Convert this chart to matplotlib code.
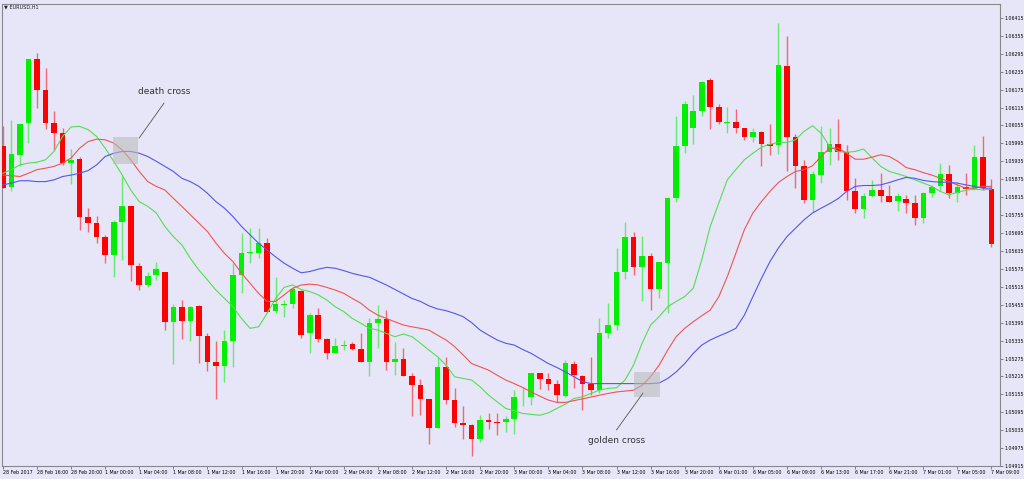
import numpy as np
import matplotlib
matplotlib.use("Agg")
import matplotlib.pyplot as plt

# EURUSD H1 candles
opens = [1.05985, 1.05848, 1.05955, 1.06062, 1.06278, 1.06173, 1.06063, 1.06029, 1.05930, 1.05942,
         1.05750, 1.05728, 1.05681, 1.05620, 1.05732, 1.05787, 1.05586, 1.05520, 1.05553, 1.05566,
         1.05398, 1.05447, 1.05400, 1.05451, 1.05350, 1.05262, 1.05250, 1.05332, 1.05553, 1.05627,
         1.05629, 1.05662, 1.05435, 1.05455, 1.05457, 1.05502, 1.05359, 1.05420, 1.05340, 1.05295,
         1.05318, 1.05323, 1.05307, 1.05263, 1.05395, 1.05408, 1.05263, 1.05274, 1.05217, 1.05185,
         1.05138, 1.05044, 1.05247, 1.05136, 1.05060, 1.05052, 1.05007, 1.05069, 1.05063, 1.05061,
         1.05074, 1.05145, 1.05145, 1.05225, 1.05206, 1.05191, 1.05151, 1.05258, 1.05216, 1.05191,
         1.05171, 1.05359, 1.05387, 1.05566, 1.05681, 1.05582, 1.05619, 1.05506, 1.05596, 1.05811,
         1.05985, 1.06046, 1.06102, 1.06207, 1.06118, 1.06063, 1.06065, 1.06046, 1.06015, 1.06032,
         1.05993, 1.05988, 1.06253, 1.06015, 1.05918, 1.05806, 1.05889, 1.05966, 1.05993, 1.05966,
         1.05836, 1.05775, 1.05819, 1.05838, 1.05820, 1.05802, 1.05810, 1.05797, 1.05744, 1.05828,
         1.05851, 1.05891, 1.05828, 1.05849, 1.05841, 1.05951, 1.05843]
highs = [1.06054, 1.06074, 1.06063, 1.06278, 1.06297, 1.06247, 1.06102, 1.06046, 1.05977, 1.05949,
         1.05778, 1.05752, 1.05689, 1.05739, 1.05887, 1.05787, 1.05593, 1.05566, 1.05599, 1.05566,
         1.05457, 1.05471, 1.05451, 1.05454, 1.05359, 1.05334, 1.05370, 1.05594, 1.05694, 1.05711,
         1.05711, 1.05678, 1.05547, 1.05471, 1.05515, 1.05504, 1.05426, 1.05443, 1.05342, 1.05342,
         1.05337, 1.05331, 1.05359, 1.05409, 1.05454, 1.05437, 1.05331, 1.05309, 1.05225, 1.05205,
         1.05138, 1.05281, 1.05281, 1.05175, 1.05115, 1.05057, 1.05085, 1.05091, 1.05091, 1.05083,
         1.05169, 1.05180, 1.05228, 1.05228, 1.05225, 1.05203, 1.05270, 1.05267, 1.05219, 1.05281,
         1.05409, 1.05462, 1.05645, 1.05733, 1.05700, 1.05685, 1.05627, 1.05599, 1.05817, 1.06085,
         1.06136, 1.06158, 1.06203, 1.06214, 1.06127, 1.06118, 1.06110, 1.06048, 1.06046, 1.06035,
         1.06061, 1.06398, 1.06356, 1.06026, 1.05940, 1.05901, 1.06052, 1.06046, 1.06077, 1.05989,
         1.05878, 1.05828, 1.05873, 1.05897, 1.05856, 1.05828, 1.05823, 1.05823, 1.05831, 1.05856,
         1.05929, 1.05923, 1.05867, 1.05897, 1.05990, 1.06020, 1.05876]
lows = [1.05845, 1.05834, 1.05918, 1.05996, 1.06113, 1.06044, 1.05973, 1.05923, 1.05859, 1.05705,
        1.05697, 1.05661, 1.05594, 1.05547, 1.05605, 1.05534, 1.05504, 1.05515, 1.05538, 1.05370,
        1.05255, 1.05339, 1.05333, 1.05261, 1.05233, 1.05138, 1.05195, 1.05245, 1.05493, 1.05594,
        1.05610, 1.05432, 1.05426, 1.05415, 1.05443, 1.05342, 1.05292, 1.05329, 1.05275, 1.05295,
        1.05303, 1.05303, 1.05262, 1.05217, 1.05309, 1.05236, 1.05219, 1.05217, 1.05083, 1.05086,
        1.04990, 1.05044, 1.05124, 1.05047, 1.05005, 1.04948, 1.04996, 1.05040, 1.05018, 1.05029,
        1.05021, 1.05115, 1.05118, 1.05173, 1.05169, 1.05130, 1.05147, 1.05175, 1.05104, 1.05152,
        1.05158, 1.05345, 1.05370, 1.05541, 1.05555, 1.05466, 1.05437, 1.05476, 1.05428, 1.05800,
        1.05962, 1.05993, 1.06085, 1.06044, 1.06060, 1.06029, 1.06029, 1.06007, 1.06001, 1.05918,
        1.05957, 1.05959, 1.05901, 1.05845, 1.05795, 1.05765, 1.05862, 1.05921, 1.05940, 1.05806,
        1.05762, 1.05744, 1.05817, 1.05800, 1.05798, 1.05767, 1.05762, 1.05723, 1.05728, 1.05817,
        1.05834, 1.05811, 1.05800, 1.05823, 1.05839, 1.05839, 1.05648]
closes = [1.05847, 1.05960, 1.06060, 1.06278, 1.06173, 1.06063, 1.06029, 1.05930, 1.05940, 1.05750,
          1.05729, 1.05680, 1.05620, 1.05732, 1.05787, 1.05587, 1.05520, 1.05551, 1.05574, 1.05398,
          1.05447, 1.05400, 1.05447, 1.05350, 1.05262, 1.05250, 1.05334, 1.05553, 1.05627, 1.05630,
          1.05662, 1.05432, 1.05456, 1.05457, 1.05506, 1.05353, 1.05420, 1.05341, 1.05295, 1.05318,
          1.05321, 1.05307, 1.05262, 1.05394, 1.05408, 1.05263, 1.05274, 1.05217, 1.05185, 1.05138,
          1.05044, 1.05247, 1.05136, 1.05060, 1.05052, 1.05007, 1.05069, 1.05062, 1.05060, 1.05074,
          1.05145, 1.05147, 1.05225, 1.05206, 1.05191, 1.05152, 1.05261, 1.05219, 1.05191, 1.05171,
          1.05359, 1.05387, 1.05563, 1.05681, 1.05582, 1.05618, 1.05506, 1.05597, 1.05811, 1.05985,
          1.06127, 1.06105, 1.06201, 1.06118, 1.06065, 1.06066, 1.06046, 1.06015, 1.06032, 1.05992,
          1.05987, 1.06257, 1.06015, 1.05918, 1.05806, 1.05893, 1.05966, 1.05993, 1.05966, 1.05836,
          1.05775, 1.05819, 1.05838, 1.05820, 1.05799, 1.05819, 1.05795, 1.05744, 1.05828, 1.05849,
          1.05893, 1.05828, 1.05849, 1.05841, 1.05951, 1.05845, 1.05658]

# moving averages as drawn on the chart (fast / medium / slow)
ma_fast = [1.05895, 1.05907, 1.05923, 1.05929, 1.05932, 1.05940, 1.05968, 1.06018, 1.06050, 1.06052,
           1.06041, 1.06018, 1.05979, 1.05935, 1.05889, 1.05839, 1.05800, 1.05784, 1.05762, 1.05717,
           1.05683, 1.05655, 1.05610, 1.05571, 1.05538, 1.05504, 1.05476, 1.05448, 1.05409, 1.05376,
           1.05381, 1.05426, 1.05476, 1.05513, 1.05521, 1.05506, 1.05499, 1.05488, 1.05471, 1.05448,
           1.05432, 1.05409, 1.05393, 1.05376, 1.05370, 1.05359, 1.05348, 1.05357, 1.05348, 1.05326,
           1.05303, 1.05281, 1.05253, 1.05214, 1.05208, 1.05203, 1.05180, 1.05152, 1.05130, 1.05108,
           1.05100, 1.05091, 1.05088, 1.05085, 1.05093, 1.05108, 1.05122, 1.05141, 1.05147, 1.05158,
           1.05169, 1.05175, 1.05177, 1.05203, 1.05253, 1.05326, 1.05387, 1.05415, 1.05448, 1.05466,
           1.05482, 1.05510, 1.05605, 1.05717, 1.05795, 1.05873, 1.05907, 1.05940, 1.05962, 1.05982,
           1.05992, 1.05998, 1.05998, 1.06007, 1.06035, 1.06054, 1.06029, 1.05985, 1.05968, 1.05965,
           1.05968, 1.05976, 1.05946, 1.05918, 1.05901, 1.05893, 1.05884, 1.05873, 1.05862, 1.05851,
           1.05834, 1.05823, 1.05831, 1.05838, 1.05842, 1.05839, 1.05842]
ma_mid = [1.05889, 1.05887, 1.05884, 1.05895, 1.05907, 1.05912, 1.05918, 1.05929, 1.05946, 1.05979,
          1.06001, 1.06009, 1.06007, 1.05996, 1.05973, 1.05940, 1.05901, 1.05867, 1.05851, 1.05839,
          1.05811, 1.05784, 1.05756, 1.05728, 1.05700, 1.05661, 1.05627, 1.05599, 1.05560, 1.05527,
          1.05493, 1.05466, 1.05466, 1.05488, 1.05510, 1.05521, 1.05524, 1.05521, 1.05513, 1.05504,
          1.05493, 1.05476, 1.05460, 1.05437, 1.05420, 1.05409, 1.05398, 1.05387, 1.05381, 1.05376,
          1.05370, 1.05353, 1.05337, 1.05315, 1.05287, 1.05258, 1.05247, 1.05236, 1.05219, 1.05203,
          1.05191, 1.05178, 1.05163, 1.05149, 1.05136, 1.05128, 1.05128, 1.05134, 1.05140, 1.05146,
          1.05152, 1.05158, 1.05163, 1.05166, 1.05169, 1.05185, 1.05214, 1.05253, 1.05303, 1.05348,
          1.05376, 1.05398, 1.05418, 1.05437, 1.05482, 1.05549, 1.05627, 1.05706, 1.05762, 1.05800,
          1.05834, 1.05864, 1.05884, 1.05901, 1.05907, 1.05920, 1.05951, 1.05979, 1.05979, 1.05962,
          1.05942, 1.05942, 1.05949, 1.05957, 1.05951, 1.05935, 1.05914, 1.05907, 1.05897, 1.05889,
          1.05878, 1.05867, 1.05856, 1.05845, 1.05845, 1.05851, 1.05851]
ma_slow = [1.05856, 1.05862, 1.05870, 1.05870, 1.05867, 1.05867, 1.05873, 1.05884, 1.05889, 1.05895,
           1.05904, 1.05923, 1.05951, 1.05962, 1.05968, 1.05968, 1.05962, 1.05951, 1.05935, 1.05918,
           1.05901, 1.05878, 1.05867, 1.05851, 1.05828, 1.05800, 1.05778, 1.05750, 1.05717, 1.05689,
           1.05661, 1.05638, 1.05615, 1.05594, 1.05577, 1.05562, 1.05566, 1.05574, 1.05580, 1.05577,
           1.05569, 1.05560, 1.05553, 1.05547, 1.05534, 1.05521, 1.05506, 1.05491, 1.05476, 1.05466,
           1.05451, 1.05441, 1.05435, 1.05426, 1.05415, 1.05395, 1.05370, 1.05353, 1.05337, 1.05326,
           1.05320, 1.05305, 1.05292, 1.05275, 1.05258, 1.05245, 1.05230, 1.05214, 1.05198, 1.05191,
           1.05191, 1.05191, 1.05191, 1.05191, 1.05191, 1.05191, 1.05191, 1.05193, 1.05208, 1.05230,
           1.05258, 1.05292, 1.05320, 1.05337, 1.05350, 1.05362, 1.05376, 1.05420, 1.05482, 1.05543,
           1.05599, 1.05645, 1.05683, 1.05711, 1.05739, 1.05762, 1.05778, 1.05793, 1.05810, 1.05834,
           1.05851, 1.05854, 1.05854, 1.05856, 1.05864, 1.05873, 1.05881, 1.05878, 1.05871, 1.05867,
           1.05865, 1.05865, 1.05862, 1.05856, 1.05851, 1.05845, 1.05845]

time_labels = ["28 Feb 2017", "28 Feb 16:00", "28 Feb 20:00", "1 Mar 00:00", "1 Mar 04:00",
               "1 Mar 08:00", "1 Mar 12:00", "1 Mar 16:00", "1 Mar 20:00", "2 Mar 00:00",
               "2 Mar 04:00", "2 Mar 08:00", "2 Mar 12:00", "2 Mar 16:00", "2 Mar 20:00",
               "3 Mar 00:00", "3 Mar 04:00", "3 Mar 08:00", "3 Mar 12:00", "3 Mar 16:00",
               "3 Mar 20:00", "6 Mar 01:00", "6 Mar 05:00", "6 Mar 09:00", "6 Mar 13:00",
               "6 Mar 17:00", "6 Mar 21:00", "7 Mar 01:00", "7 Mar 05:00", "7 Mar 09:00"]
price_ticks = [1.04915, 1.04975, 1.05035, 1.05095, 1.05155, 1.05215, 1.05275, 1.05335, 1.05395,
               1.05455, 1.05515, 1.05575, 1.05635, 1.05695, 1.05755, 1.05815, 1.05875, 1.05935,
               1.05995, 1.06055, 1.06115, 1.06175, 1.06235, 1.06295, 1.06355, 1.06415]

o = np.array(opens); h = np.array(highs); l = np.array(lows); c = np.array(closes)
x = np.arange(len(o))
up = c >= o
cols = np.where(up, "#00ee00", "#ff0000")

fig = plt.figure(figsize=(10.24, 4.79), dpi=100)
fig.patch.set_facecolor("#e6e6f8")
ax = fig.add_axes([0.002, 0.027, 0.975, 0.965])
ax.set_facecolor("#e6e6f8")

ax.vlines(x, l, h, colors=cols, linewidth=1.0, alpha=0.55, zorder=2)
body = np.maximum(np.abs(c - o), 0.000025)
ax.bar(x, body, bottom=np.minimum(o, c), width=0.66, color=cols, zorder=3)

ax.plot(x, ma_fast, color="#55dd55", lw=0.8, zorder=4)
ax.plot(x, ma_mid, color="#ee5555", lw=0.8, zorder=4)
ax.plot(x, ma_slow, color="#5555ee", lw=0.8, zorder=4)

# cross annotations
ax.add_patch(plt.Rectangle((12.94, 1.05926), 2.92, 0.00091, color="#bbbbbb", alpha=0.6, lw=0, zorder=5))
ax.plot([15.99, 18.91], [1.06013, 1.06130], color="#555555", lw=0.6, zorder=5)
ax.text(18.9, 1.06167, "death cross", fontsize=6.5, color="#333333", ha="center", va="center")
ax.add_patch(plt.Rectangle((74.0, 1.05146), 3.06, 0.00084, color="#bbbbbb", alpha=0.6, lw=0, zorder=5))
ax.plot([72.0, 75.1], [1.05036, 1.05159], color="#555555", lw=0.6, zorder=5)
ax.text(72.0, 1.05000, "golden cross", fontsize=6.5, color="#333333", ha="center", va="center")

ax.set_xlim(-0.1, 117.05)
ax.set_ylim(1.04915, 1.06462)
ax.yaxis.tick_right()
ax.set_yticks(price_ticks)
ax.set_yticklabels([f"{p:.5f}" for p in price_ticks], fontsize=3.4)
ax.set_xticks(x[::4])
ax.set_xticklabels(time_labels, fontsize=3.4, ha="left")
ax.tick_params(axis="both", length=2, width=0.5, color="#555555", pad=1)
for s in ax.spines.values():
    s.set_color("#888888")
    s.set_linewidth(0.8)

fig.text(0.004, 0.985, "\u25bc EURUSD,H1", fontsize=3.6, va="center", color="#222222")
fig.savefig("out.png", dpi=100, facecolor=fig.get_facecolor())
